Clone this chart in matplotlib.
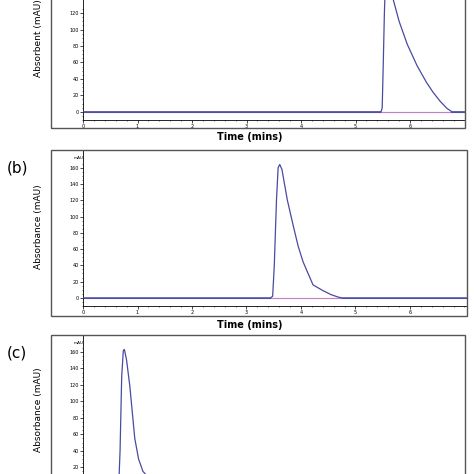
import matplotlib.pyplot as plt
from matplotlib.patches import Rectangle

# peak traces (time in mins, absorbance in mAU)
time_a = [0, 5.40, 5.47, 5.49, 5.51, 5.53, 5.55, 5.58, 5.62, 5.69, 5.80, 5.95, 6.13, 6.30, 6.42, 6.55, 6.68, 6.77, 7.05]
abs_a = [0, 0, 0, 5, 60, 120, 160, 168, 160, 137, 110, 82, 56, 36, 24, 13, 4, 0, 0]
time_b = [0, 3.44, 3.48, 3.51, 3.55, 3.58, 3.61, 3.65, 3.75, 3.86, 3.95, 4.04, 4.22, 4.40, 4.55, 4.68, 4.75, 7.05]
abs_b = [0, 0, 2, 40, 120, 160, 164, 158, 120, 88, 63, 44, 16, 9, 4, 1, 0, 0]
time_c = [0, 0.62, 0.66, 0.68, 0.71, 0.74, 0.76, 0.80, 0.86, 0.95, 1.02, 1.10, 1.20, 1.35, 1.50, 7.05]
abs_c = [0, 0, 5, 40, 130, 162, 163, 150, 118, 55, 30, 15, 8, 3, 0, 0]
ylabels = ['Absorbent (mAU)', 'Absorbance (mAU)', 'Absorbance (mAU)']
panel_tags = [None, '(b)', '(c)']

W = H = 474.0
fig = plt.figure(figsize=(4.74, 4.74), dpi=100)


def fx(x):
    return x / W


def fy(y):
    return 1 - y / H


def panel(zero_px, px_per_unit, frame_top, frame_bottom, t, a, ylabel, tag, frame_right=466, ymax_tick=160,
          xlabel=True, label_y=None):
    # outer grey frame
    fig.patches.append(Rectangle((fx(51), fy(frame_bottom)), fx(frame_right - 51),
                                 (frame_bottom - frame_top) / H, fill=False, ec='#555555', lw=1.0,
                                 transform=fig.transFigure, zorder=0))
    axis_px = zero_px + 6
    ax = fig.add_axes([fx(83), fy(axis_px), fx(frame_right - 83), (axis_px - frame_top) / H])
    ax.set_xlim(0, (frame_right - 83) / 54.5)
    ax.set_ylim(-6 / px_per_unit, (zero_px - frame_top) / px_per_unit)
    ax.patch.set_alpha(0)
    for s in ['top', 'right']:
        ax.spines[s].set_visible(False)
    ax.spines['left'].set_linewidth(0.6)
    ax.spines['bottom'].set_linewidth(0.6)
    ax.axhline(0, color='#5555aa', lw=0.8, zorder=1)
    # pink integration baseline under the peak
    nz = [ti for ti, ai in zip(t, a) if ai > 0]
    ax.plot([nz[0] - 0.03, nz[-1] + 0.05], [0, 0], color='#dd88cc', lw=0.6, zorder=2)
    ax.plot(t, a, color='#4a4aa0', lw=0.9, zorder=3)
    ax.set_xticks(range(0, 7))
    ax.set_xticks([i * 0.2 for i in range(36)], minor=True)
    ax.set_yticks(range(0, ymax_tick + 1, 20))
    ax.set_yticks(range(-10, ymax_tick + 6, 5), minor=True)
    ax.tick_params(labelsize=3.5, length=2, width=0.5, pad=1)
    ax.tick_params(which='minor', length=1, width=0.4)
    if xlabel:
        fig.text(fx(250), fy(frame_bottom + 9), 'Time (mins)', fontsize=7, fontweight='bold',
                 ha='center', va='center')
    fig.text(fx(38), fy(label_y), ylabel, rotation=90, fontsize=6.5, ha='center', va='center')
    if frame_top > 0:
        fig.text(fx(84), fy(frame_top + 8), 'mAU', fontsize=3, ha='right', va='center')
    if tag:
        fig.text(fx(7), fy(frame_top + 18), tag, fontsize=11, ha='left', va='center')
    return ax


panel(114, 0.833, -60, 128, time_a, abs_a, ylabels[0], panel_tags[0], frame_right=465, ymax_tick=120,
      label_y=38)
panel(300, 0.825, 150, 316, time_b, abs_b, ylabels[1], panel_tags[1], frame_right=467, label_y=227)
panel(486, 0.836, 335, 560, time_c, abs_c, ylabels[2], panel_tags[2], frame_right=465, xlabel=False,
      label_y=410)

fig.savefig('out.png', dpi=100)
